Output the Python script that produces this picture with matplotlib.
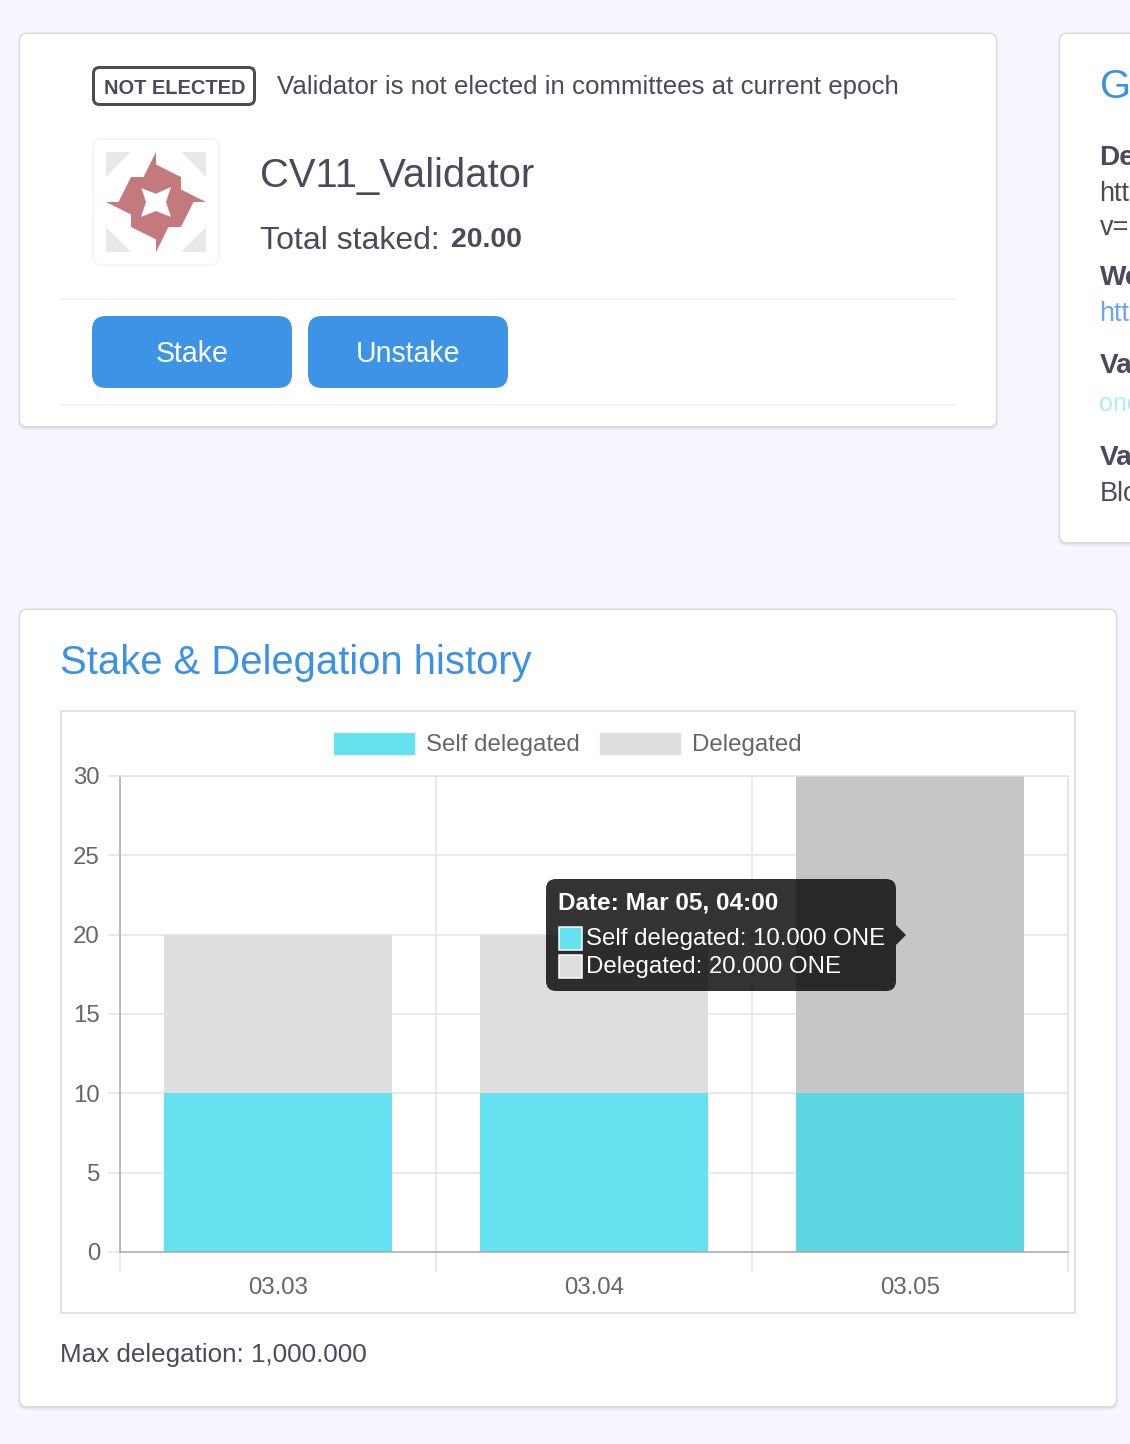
import matplotlib
matplotlib.use('Agg')
import matplotlib.pyplot as plt
from matplotlib.patches import FancyBboxPatch, Polygon, Rectangle

plt.rcParams['font.family'] = ['Liberation Sans', 'DejaVu Sans']

W, H = 1130, 1444
PX = 0.72  # one pixel in points at dpi 100

dates = ['03.03', '03.04', '03.05']
self_delegated = [10, 10, 10]
delegated = [10, 10, 20]
y_ticks = [0, 5, 10, 15, 20, 25, 30]
series_names = ['Self delegated', 'Delegated']
self_colors = ['#65e1ef', '#65e1ef', '#5dd6e2']
delegated_colors = ['#dedede', '#dedede', '#c6c6c6']

TEXT = '#4a4a5a'
BLUE = '#3b92e4'
GRID = '#e2e2e2'
AXIS = '#a8a8a8'
LABEL = '#666666'


def round_box(ax, x0, y0, x1, y1, radius, face, edge='none', lw=0, **kw):
    box = FancyBboxPatch((x0 + radius, y0 + radius), x1 - x0 - 2 * radius, y1 - y0 - 2 * radius,
                         boxstyle='round,pad=%f,rounding_size=%f' % (radius, radius),
                         facecolor=face, edgecolor=edge, linewidth=lw * PX, **kw)
    ax.add_patch(box)
    return box


def card(ax, x0, y0, x1, y1):
    # soft shadow under the white card
    round_box(ax, x0 - 1, y0 - 1, x1 + 1, y1 + 3, 9, '#e9e9f0')
    round_box(ax, x0, y0, x1, y1 + 1, 8, '#d9d9df')
    round_box(ax, x0 + 1, y0 + 1, x1 - 1, y1 - 1, 7, 'white')


def px_text(ax, x, y, s, size, color=TEXT, weight='normal', ha='left', va='center'):
    return ax.text(x, y, s, fontsize=size * PX, color=color, fontweight=weight, ha=ha, va=va)


def draw_logo(ax, x0, y0, cell):
    def pts(coords):
        return [(x0 + a * cell, y0 + b * cell) for a, b in coords]
    corners = [[(0, 0), (1, 0), (0, 1)], [(3, 0), (4, 0), (4, 1)],
               [(0, 3), (1, 4), (0, 4)], [(4, 3), (4, 4), (3, 4)]]
    for c in corners:
        ax.add_patch(Polygon(pts(c), facecolor='#e8e8e8', edgecolor='none'))
    body = [(2, 0), (2, 0.5), (3, 1), (3, 1.5), (4, 2), (3.5, 2), (3, 3), (2.5, 3), (2, 4), (2, 3.5),
            (1, 3), (1, 2.5), (0, 2), (0.5, 2), (1, 1), (1.5, 1)]
    ax.add_patch(Polygon(pts(body), facecolor='#c47a7c', edgecolor='none'))
    star = [(1.42, 1.45), (2, 1.67), (2.6, 1.4), (2.4, 2), (2.6, 2.6), (2, 2.36), (1.4, 2.6), (1.6, 2)]
    ax.add_patch(Polygon(pts(star), facecolor='white', edgecolor='none'))


fig = plt.figure(figsize=(W / 100, H / 100), dpi=100, facecolor='#f6f7fe')

# page layer, in pixels from the top left
bg = fig.add_axes([0, 0, 1, 1], zorder=0)
bg.set_xlim(0, W)
bg.set_ylim(H, 0)
bg.axis('off')

card(bg, 19, 33, 997, 427)
card(bg, 1059, 33, 1170, 543)
card(bg, 19, 609, 1117, 1407)

# top card
round_box(bg, 93.5, 67.5, 254.5, 104.5, 6, 'white', TEXT, 3)
px_text(bg, 174.5, 88, 'NOT ELECTED', 20, weight='bold', ha='center')
px_text(bg, 277, 87, 'Validator is not elected in committees at current epoch', 25.9)
round_box(bg, 93, 139, 219, 265, 8, 'white', '#f4f4f4', 1.5)
draw_logo(bg, 106, 152, 25)
px_text(bg, 260, 176, 'CV11_Validator', 40)
px_text(bg, 260, 241, 'Total staked:', 32)
px_text(bg, 451, 240, '20.00', 28.4, weight='bold')
bg.plot([60, 956], [299, 299], color='#f3f3f6', lw=1.5 * PX)
bg.plot([60, 956], [405, 405], color='#f3f3f6', lw=1.5 * PX)
round_box(bg, 92, 316, 292, 388, 14, '#3d94e6')
round_box(bg, 308, 316, 508, 388, 14, '#3d94e6')
px_text(bg, 192, 354, 'Stake', 28.5, color='white', ha='center')
px_text(bg, 408.5, 354, 'Unstake', 28.5, color='white', ha='center')

# right card, cut by the page edge
px_text(bg, 1099.5, 87, 'G', 40, color=BLUE)
px_text(bg, 1099.5, 158, 'De', 28, weight='bold')
px_text(bg, 1099.5, 194, 'htt', 27)
px_text(bg, 1099.5, 228, 'v=', 27)
px_text(bg, 1099.5, 278, 'We', 28, weight='bold')
px_text(bg, 1099.5, 314, 'htt', 27, color='#6ea3f5')
px_text(bg, 1099.5, 366, 'Va', 28, weight='bold')
px_text(bg, 1099.5, 404, 'one', 25, color='#a9eefb')
px_text(bg, 1099.5, 458, 'Va', 28, weight='bold')
px_text(bg, 1099.5, 494, 'Blo', 27)

# history card
px_text(bg, 60, 663, 'Stake & Delegation history', 40, color=BLUE)
bg.add_patch(Rectangle((61, 711), 1014, 602, facecolor='white', edgecolor=GRID, linewidth=2 * PX))
px_text(bg, 60, 1355, 'Max delegation: 1,000.000', 26)

# bar chart
ax = fig.add_axes([120 / W, 1 - 1252 / H, 948 / W, 476 / H], zorder=1)
ax.patch.set_alpha(0)
x = list(range(len(dates)))
ax.bar(x, self_delegated, width=0.72, color=self_colors, label=series_names[0], zorder=2)
ax.bar(x, delegated, width=0.72, bottom=self_delegated, color=delegated_colors,
       label=series_names[1], zorder=2)
ax.set_xlim(-0.5, len(dates) - 0.5)
ax.set_ylim(0, 30)
ax.set_yticks(y_ticks)
ax.set_xticks([i - 0.5 for i in range(len(dates) + 1)])
ax.set_xticklabels([])
ax.set_xticks(x, minor=True)
ax.set_xticklabels(dates, minor=True)
ax.grid(True, color=GRID, lw=1.5 * PX, zorder=0)
ax.tick_params(axis='y', length=12 * PX, width=1.5 * PX, color=GRID, labelsize=24 * PX,
               labelcolor=LABEL, pad=8 * PX)
ax.tick_params(axis='x', which='major', length=20 * PX, width=1.5 * PX, color=GRID)
ax.tick_params(axis='x', which='minor', length=0, labelsize=24 * PX, labelcolor=LABEL, pad=25 * PX)
for side in ['top', 'right']:
    ax.spines[side].set_color(GRID)
    ax.spines[side].set_linewidth(1.5 * PX)
for side in ['left', 'bottom']:
    ax.spines[side].set_color(AXIS)
    ax.spines[side].set_linewidth(1.5 * PX)

leg = ax.legend(loc='center', bbox_to_anchor=(568 / W, 1 - 744.5 / H), bbox_transform=fig.transFigure,
                ncol=2, frameon=False, fontsize=24 * PX, handlelength=80 / 24, handleheight=1,
                handletextpad=0.5, columnspacing=20 / 24, borderpad=0, borderaxespad=0)
for txt in leg.get_texts():
    txt.set_color(LABEL)
leg.legend_handles[0].set_color(self_colors[0])
leg.legend_handles[1].set_color(delegated_colors[0])

# tooltip layer
fg = fig.add_axes([0, 0, 1, 1], zorder=2)
fg.set_xlim(0, W)
fg.set_ylim(H, 0)
fg.axis('off')
round_box(fg, 546, 879, 896, 991, 10, (0, 0, 0, 0.8))
fg.add_patch(Polygon([(896, 925), (906, 935), (896, 945)], facecolor=(0, 0, 0, 0.8), edgecolor='none'))
px_text(fg, 558, 903, 'Date: Mar 05, 04:00', 24.2, color='white', weight='bold')
fg.add_patch(Rectangle((559, 927), 23, 23, facecolor=self_colors[0], edgecolor='white', linewidth=1.5 * PX))
fg.add_patch(Rectangle((559, 955), 23, 23, facecolor=delegated_colors[0], edgecolor='white', linewidth=1.5 * PX))
px_text(fg, 586.5, 939, '%s: %.3f ONE' % (series_names[0], self_delegated[2]), 24, color='white')
px_text(fg, 586.5, 967, '%s: %.3f ONE' % (series_names[1], delegated[2]), 24, color='white')

fig.savefig('out.png', dpi=100, facecolor=fig.get_facecolor())
